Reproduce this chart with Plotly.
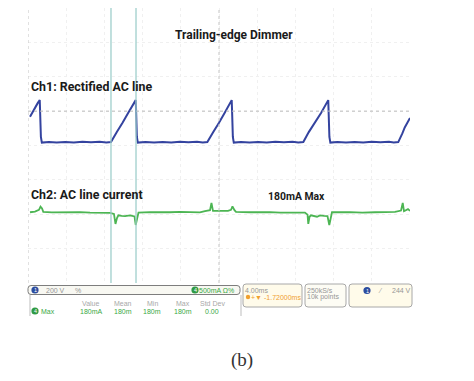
import plotly.graph_objects as go

# ---------------- data ----------------
# Ch1: rectified AC line, time in ms (4 ms/div), voltage in V (200 V/div)
ch1_t = [0.21, 0.6, 1.0, 1.23, 1.27, 1.35, 1.45, 2.2, 3.0, 3.9, 4.8, 5.7, 6.6, 7.5, 8.2, 8.69,
         9.3, 9.8, 9.9, 10.5, 11.28, 11.32, 11.40, 11.50, 12.3, 13.2, 14.1, 15.0, 15.9, 16.8, 17.7, 18.3, 18.78,
         19.4, 19.9, 20.0, 20.6, 21.33, 21.37, 21.45, 21.55, 22.3, 23.2, 24.1, 25.0, 25.9, 26.8, 27.7, 28.3, 28.83,
         29.4, 29.9, 30.0, 30.7, 31.44, 31.48, 31.56, 31.66, 32.4, 33.3, 34.2, 35.1, 36.0, 36.9, 37.8, 38.3, 38.77,
         39.2, 39.45, 40.0]
ch1_v = [147, 190, 225, 244, 180, 30, -3, 1, -2, 1, -3, 2, -1, 2, -2, 0,
         58, 100, 112, 170, 244, 180, 30, -3, 1, -2, 1, -3, 2, -1, 2, -2, 0,
         58, 100, 112, 170, 244, 180, 30, -3, 1, -2, 1, -3, 2, -1, 2, -2, 0,
         58, 100, 112, 170, 244, 180, 30, -3, 1, -2, 1, -3, 2, -1, 2, -2, 0,
         50, 85, 140]

# Ch2: AC line current, time in ms, current in mA (500 mA/div)
ch2_t = [0.21, 0.73, 1.15, 1.31, 1.47, 1.6, 2.5, 3.35, 4.4, 5.45, 6.5, 7.54, 8.59,
         9.0, 9.16, 9.32, 9.46, 9.8, 10.16, 10.68, 11.15, 11.28, 11.41, 11.57,
         12.77, 13.8, 14.87, 15.9, 16.96, 18.0, 18.53, 19.06, 19.21, 19.37, 19.58, 20.31, 20.94, 21.26, 21.41, 21.62, 21.78,
         23.25, 24.3, 25.34, 26.4, 27.43, 29.0, 29.27, 29.35, 29.48, 29.63, 30.26, 30.58, 31.0, 31.36, 31.55, 31.73, 31.83,
         33.72, 35.0, 36.34, 37.4, 38.43, 39.06, 39.24, 39.37, 39.58, 39.79, 40.0]
ch2_i = [25, 35, 60, 106, 80, 30, 22, 25, 32, 28, 20, 22, 15,
         0, -145, -60, -20, -28, -30, -20, -35, -160, -60, 20,
         28, 22, 25, 32, 30, 24, 40, 55, 160, 45, 45, 50, 45, 60, 110, 55, 30,
         25, 32, 28, 20, 24, 20, -10, -145, -40, -20, -40, -20, -28, -30, -160, -40, 25,
         28, 20, 25, 32, 30, 50, 160, 40, 50, 70, 45]

cursor_t = [8.69, 11.31]                     # cursor positions, ms
meas_headers = ["Value", "Mean", "Min", "Max", "Std Dev"]
meas_values = ["180mA", "180m", "180m", "180m", "0.00"]

# ---------------- figure ----------------
W, H = 474, 381
L, R, T, B = 28, 410, 8, 283


def px(x):
    return (x - L) / (R - L)


def py(y):
    return (B - y) / (B - T)


fig = go.Figure()
fig.add_trace(go.Scatter(x=ch1_t, y=ch1_v, mode="lines",
                         line=dict(color="#34439f", width=2), yaxis="y", hoverinfo="skip"))
fig.add_trace(go.Scatter(x=ch2_t, y=ch2_i, mode="lines",
                         line=dict(color="#4cb553", width=1.8), yaxis="y2", hoverinfo="skip"))
# channel offset markers
fig.add_trace(go.Scatter(x=[-0.5], y=[0], mode="markers", cliponaxis=False, yaxis="y",
                         marker=dict(symbol="triangle-right", size=7, color="#111111"), hoverinfo="skip"))
fig.add_trace(go.Scatter(x=[-0.55], y=[-15], mode="markers", cliponaxis=False, yaxis="y2",
                         marker=dict(symbol="triangle-right", size=7, color="#1d6b2c"), hoverinfo="skip"))

shapes = []
# visible dotted graticule lines
shapes.append(dict(type="line", xref="x", yref="paper", x0=0, x1=0, y0=0, y1=1,
                   line=dict(color="#c4c4c4", width=1, dash="dot")))
shapes.append(dict(type="line", xref="x", yref="paper", x0=20, x1=20, y0=0, y1=1,
                   line=dict(color="#c4c4c4", width=1, dash="dot")))
shapes.append(dict(type="line", xref="paper", yref="y", x0=0, x1=1, y0=180, y1=180,
                   line=dict(color="#bdbdbd", width=1, dash="dot")))
# cursors
for c in cursor_t:
    shapes.append(dict(type="line", xref="x", yref="paper", x0=c, x1=c, y0=0, y1=1,
                       line=dict(color="#9fcfcc", width=1.3)))


def rrect(x0, y0, x1, y1, r, fill, line):
    X, Y = px, py
    path = (f"M {X(x0+r)},{Y(y0)} L {X(x1-r)},{Y(y0)} Q {X(x1)},{Y(y0)} {X(x1)},{Y(y0+r)} "
            f"L {X(x1)},{Y(y1-r)} Q {X(x1)},{Y(y1)} {X(x1-r)},{Y(y1)} L {X(x0+r)},{Y(y1)} "
            f"Q {X(x0)},{Y(y1)} {X(x0)},{Y(y1-r)} L {X(x0)},{Y(y0+r)} Q {X(x0)},{Y(y0)} {X(x0+r)},{Y(y0)} Z")
    return dict(type="path", xref="paper", yref="paper", path=path,
                fillcolor=fill, line=dict(color=line, width=1), layer="above")


def circ(cx, cy, r, color):
    return dict(type="circle", xref="paper", yref="paper", x0=px(cx - r), x1=px(cx + r),
                y0=py(cy + r), y1=py(cy - r), fillcolor=color, line=dict(width=0), layer="above")


# status area
shapes.append(rrect(28, 285.5, 240, 294.5, 3, "#f8f8f2", "#7d7d7d"))
shapes.append(dict(type="line", xref="paper", yref="paper", x0=px(30), x1=px(30), y0=py(295), y1=py(316),
                   line=dict(color="#bdbdbd", width=1)))
shapes.append(dict(type="line", xref="paper", yref="paper", x0=px(241), x1=px(241), y0=py(295), y1=py(316),
                   line=dict(color="#bdbdbd", width=1)))
shapes.append(rrect(243, 284, 302, 307, 3, "#fffbea", "#a8a8a8"))
shapes.append(rrect(305, 284, 346, 307, 3, "#fdfcf4", "#a8a8a8"))
shapes.append(rrect(349, 284, 412, 307, 3, "#fffbea", "#a8a8a8"))
shapes.append(circ(35, 290, 3.6, "#2c4d9f"))
shapes.append(circ(195, 290, 3.6, "#2f9a45"))
shapes.append(circ(35, 311, 3.6, "#2f9a45"))
shapes.append(circ(367, 290.5, 3.6, "#2c4d9f"))
shapes.append(circ(248, 297, 2.2, "#f0a030"))

ann = []
SANS = "Liberation Sans, Arial"
COND = "Roboto, Liberation Sans, Arial"


def text(x, y, s, size, color, anchor="left", family=SANS, bold=False):
    if bold:
        s = "<b>" + s + "</b>"
    ann.append(dict(xref="paper", yref="paper", x=px(x), y=py(y), text=s, showarrow=False,
                    xanchor=anchor, yanchor="middle", borderpad=0, borderwidth=0,
                    font=dict(family=family, size=size, color=color)))


text(234, 35, "Trailing-edge Dimmer", 12, "#1a1a1a", "center", family=COND, bold=True)
text(31, 87, "Ch1: Rectified AC line", 12.4, "#1a1a1a", family=COND, bold=True)
text(31, 194, "Ch2: AC line current", 12.4, "#1a1a1a", family=COND, bold=True)
text(268, 196.5, "180mA Max", 10.4, "#1a1a1a", family=COND, bold=True)

grey = "#969696"
green = "#3aa845"
text(35, 290, "1", 5.5, "white", "center")
text(46, 290, "200 V", 7, grey)
text(75, 290, "%", 7, grey)
text(195, 290, "4", 5.5, "white", "center")
text(199, 290, "500mA Ω%", 7, green)
for h, xc in zip(meas_headers, [90, 123, 152, 183, 212]):
    text(xc, 303, h, 7, "#a8a8a8", "center")
text(35, 311, "4", 5.5, "white", "center")
text(41, 311, "Max", 7, green)
for v, xc in zip(meas_values, [91, 123, 152, 183, 212]):
    text(xc, 311, v, 7, green, "center")
text(245, 290.5, "4.00ms", 7, grey)
text(251, 297, "+▼ -1.72000ms", 7, "#f0a030")
text(307, 290.5, "250kS/s", 7, grey)
text(307, 297, "10k points", 7, grey)
text(367, 290.5, "1", 5.5, "white", "center")
text(380, 290.5, "⁄", 7, grey, "center")
text(392, 290.5, "244 V", 7, grey)
text(242, 360, "(b)", 19, "#333333", "center", family="Liberation Serif, Times New Roman, serif")

fig.update_layout(
    width=W, height=H, margin=dict(l=L, r=W - R, t=T, b=H - B),
    paper_bgcolor="white", plot_bgcolor="white", showlegend=False, hovermode=False,
    xaxis=dict(range=[0, 40], dtick=4, tick0=0, showgrid=True, gridcolor="#f0f0f0", griddash="dot",
               zeroline=False, showticklabels=False, showline=False, ticks=""),
    yaxis=dict(range=[-820, 780], dtick=200, tick0=-20, showgrid=True, gridcolor="#f0f0f0", griddash="dot",
               zeroline=False, showticklabels=False, showline=False, ticks=""),
    yaxis2=dict(range=[-1004, 2996], overlaying="y", showgrid=False, zeroline=False,
                showticklabels=False, showline=False, ticks=""),
    shapes=shapes, annotations=ann,
)
fig.write_html("out.html", config={"displayModeBar": False},
               post_script="document.body.style.margin='0';")
